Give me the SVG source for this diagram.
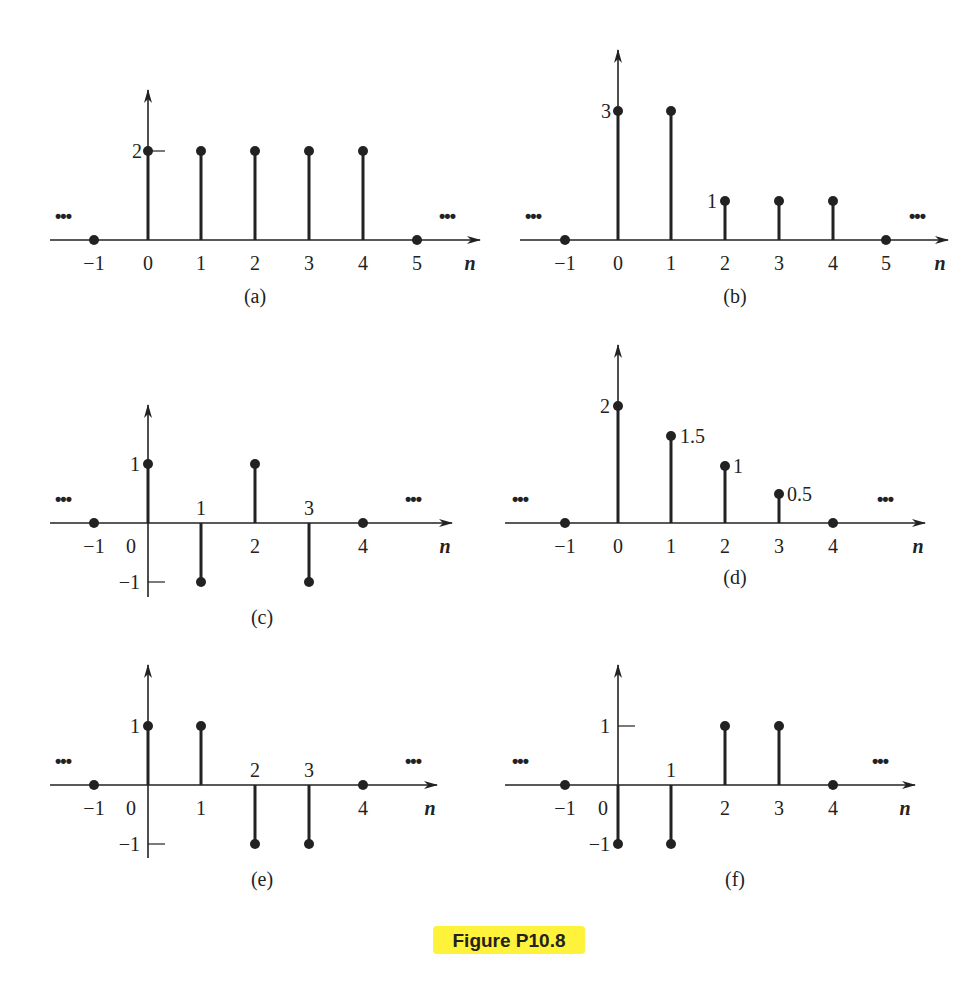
<svg xmlns="http://www.w3.org/2000/svg" width="980" height="990" viewBox="0 0 980 990">
<defs>
<marker id="ar" markerWidth="14" markerHeight="8" refX="13" refY="4" orient="auto" markerUnits="userSpaceOnUse"><path d="M0,0 L14,4 L0,8 L4,4 Z" fill="#222"/></marker>
<style>
.ax{stroke:#222;stroke-width:1.6;fill:none}
.st{stroke:#222;stroke-width:3}
.tk{stroke:#222;stroke-width:1.2}
.d{fill:#222}
text{font-family:"Liberation Serif",serif;font-size:20px;fill:#222}
.c{text-anchor:middle}
.r{text-anchor:end}
.n{font-style:italic;font-weight:bold}
.el{font-family:"Liberation Sans",sans-serif;font-size:18px;font-weight:bold;letter-spacing:-1px}
</style>
</defs>
<rect width="980" height="990" fill="#fff"/>
<g id="connectors">
<line class="ax" x1="50" y1="240" x2="480" y2="240" marker-end="url(#ar)"/>
<line class="ax" x1="148" y1="240" x2="148" y2="90" marker-end="url(#ar)"/>
<line class="ax" x1="520" y1="240" x2="948" y2="240" marker-end="url(#ar)"/>
<line class="ax" x1="618" y1="240" x2="618" y2="50" marker-end="url(#ar)"/>
<line class="ax" x1="50" y1="523" x2="452" y2="523" marker-end="url(#ar)"/>
<line class="ax" x1="148" y1="597" x2="148" y2="405" marker-end="url(#ar)"/>
<line class="ax" x1="505" y1="523" x2="925" y2="523" marker-end="url(#ar)"/>
<line class="ax" x1="618" y1="523" x2="618" y2="345" marker-end="url(#ar)"/>
<line class="ax" x1="50" y1="785" x2="437" y2="785" marker-end="url(#ar)"/>
<line class="ax" x1="148" y1="858" x2="148" y2="665" marker-end="url(#ar)"/>
<line class="ax" x1="505" y1="785" x2="915" y2="785" marker-end="url(#ar)"/>
<line class="ax" x1="618" y1="785" x2="618" y2="665" marker-end="url(#ar)"/>
</g>
<g id="plot-a">
<line class="tk" x1="148" y1="151" x2="165" y2="151"/>
<g class="st"><line x1="148" y1="240" x2="148" y2="151"/><line x1="201" y1="240" x2="201" y2="151"/><line x1="255" y1="240" x2="255" y2="151"/><line x1="309" y1="240" x2="309" y2="151"/><line x1="363" y1="240" x2="363" y2="151"/></g>
<g class="d"><circle cx="94" cy="240" r="5"/><circle cx="148" cy="151" r="5"/><circle cx="201" cy="151" r="5"/><circle cx="255" cy="151" r="5"/><circle cx="309" cy="151" r="5"/><circle cx="363" cy="151" r="5"/><circle cx="417" cy="240" r="5"/></g>
<text x="142" y="158" class="r">2</text>
<text x="63" y="222" class="c el">•••</text><text x="447" y="222" class="c el">•••</text>
<text x="94" y="270" class="c">−1</text><text x="148" y="270" class="c">0</text><text x="201" y="270" class="c">1</text><text x="255" y="270" class="c">2</text><text x="309" y="270" class="c">3</text><text x="363" y="270" class="c">4</text><text x="417" y="270" class="c">5</text>
<text x="470" y="270" class="c n">n</text>
<text x="255" y="303" class="c">(a)</text>
</g>
<g id="plot-b">
<g class="st"><line x1="618" y1="240" x2="618" y2="111"/><line x1="671" y1="240" x2="671" y2="111"/><line x1="725" y1="240" x2="725" y2="201"/><line x1="779" y1="240" x2="779" y2="201"/><line x1="833" y1="240" x2="833" y2="201"/></g>
<g class="d"><circle cx="565" cy="240" r="5"/><circle cx="618" cy="111" r="5"/><circle cx="671" cy="111" r="5"/><circle cx="725" cy="201" r="5"/><circle cx="779" cy="201" r="5"/><circle cx="833" cy="201" r="5"/><circle cx="886" cy="240" r="5"/></g>
<text x="611" y="118" class="r">3</text><text x="717" y="208" class="r">1</text>
<text x="533" y="222" class="c el">•••</text><text x="917" y="222" class="c el">•••</text>
<text x="565" y="270" class="c">−1</text><text x="618" y="270" class="c">0</text><text x="671" y="270" class="c">1</text><text x="725" y="270" class="c">2</text><text x="779" y="270" class="c">3</text><text x="833" y="270" class="c">4</text><text x="886" y="270" class="c">5</text>
<text x="940" y="270" class="c n">n</text>
<text x="735" y="303" class="c">(b)</text>
</g>
<g id="plot-c">
<line class="tk" x1="148" y1="582" x2="165" y2="582"/>
<g class="st"><line x1="148" y1="523" x2="148" y2="464"/><line x1="201" y1="523" x2="201" y2="582"/><line x1="255" y1="523" x2="255" y2="464"/><line x1="309" y1="523" x2="309" y2="582"/></g>
<g class="d"><circle cx="94" cy="523" r="5"/><circle cx="148" cy="464" r="5"/><circle cx="201" cy="582" r="5"/><circle cx="255" cy="464" r="5"/><circle cx="309" cy="582" r="5"/><circle cx="363" cy="523" r="5"/></g>
<text x="140" y="471" class="r">1</text><text x="140" y="589" class="r">−1</text>
<text x="63" y="505" class="c el">•••</text><text x="413" y="505" class="c el">•••</text>
<text x="94" y="553" class="c">−1</text><text x="131" y="553" class="c">0</text><text x="255" y="553" class="c">2</text><text x="363" y="553" class="c">4</text>
<text x="201" y="515" class="c">1</text><text x="309" y="515" class="c">3</text>
<text x="445" y="553" class="c n">n</text>
<text x="262" y="624" class="c">(c)</text>
</g>
<g id="plot-d">
<g class="st"><line x1="618" y1="523" x2="618" y2="406"/><line x1="671" y1="523" x2="671" y2="436"/><line x1="725" y1="523" x2="725" y2="466"/><line x1="779" y1="523" x2="779" y2="494"/></g>
<g class="d"><circle cx="565" cy="523" r="5"/><circle cx="618" cy="406" r="5"/><circle cx="671" cy="436" r="5"/><circle cx="725" cy="466" r="5"/><circle cx="779" cy="494" r="5"/><circle cx="833" cy="523" r="5"/></g>
<text x="610" y="413" class="r">2</text><text x="680" y="443">1.5</text><text x="733" y="473">1</text><text x="787" y="501">0.5</text>
<text x="520" y="505" class="c el">•••</text><text x="885" y="505" class="c el">•••</text>
<text x="565" y="553" class="c">−1</text><text x="618" y="553" class="c">0</text><text x="671" y="553" class="c">1</text><text x="725" y="553" class="c">2</text><text x="779" y="553" class="c">3</text><text x="833" y="553" class="c">4</text>
<text x="918" y="553" class="c n">n</text>
<text x="735" y="584" class="c">(d)</text>
</g>
<g id="plot-e">
<line class="tk" x1="148" y1="844" x2="165" y2="844"/>
<g class="st"><line x1="148" y1="785" x2="148" y2="726"/><line x1="201" y1="785" x2="201" y2="726"/><line x1="255" y1="785" x2="255" y2="844"/><line x1="309" y1="785" x2="309" y2="844"/></g>
<g class="d"><circle cx="94" cy="785" r="5"/><circle cx="148" cy="726" r="5"/><circle cx="201" cy="726" r="5"/><circle cx="255" cy="844" r="5"/><circle cx="309" cy="844" r="5"/><circle cx="363" cy="785" r="5"/></g>
<text x="140" y="733" class="r">1</text><text x="140" y="851" class="r">−1</text>
<text x="63" y="767" class="c el">•••</text><text x="413" y="767" class="c el">•••</text>
<text x="94" y="815" class="c">−1</text><text x="131" y="815" class="c">0</text><text x="201" y="815" class="c">1</text><text x="363" y="815" class="c">4</text>
<text x="255" y="777" class="c">2</text><text x="309" y="777" class="c">3</text>
<text x="430" y="815" class="c n">n</text>
<text x="262" y="886" class="c">(e)</text>
</g>
<g id="plot-f">
<line class="tk" x1="618" y1="726" x2="635" y2="726"/>
<g class="st"><line x1="618" y1="785" x2="618" y2="844"/><line x1="671" y1="785" x2="671" y2="844"/><line x1="725" y1="785" x2="725" y2="726"/><line x1="779" y1="785" x2="779" y2="726"/></g>
<g class="d"><circle cx="565" cy="785" r="5"/><circle cx="618" cy="844" r="5"/><circle cx="671" cy="844" r="5"/><circle cx="725" cy="726" r="5"/><circle cx="779" cy="726" r="5"/><circle cx="833" cy="785" r="5"/></g>
<text x="610" y="733" class="r">1</text><text x="610" y="851" class="r">−1</text>
<text x="520" y="767" class="c el">•••</text><text x="880" y="767" class="c el">•••</text>
<text x="565" y="815" class="c">−1</text><text x="603" y="815" class="c">0</text><text x="725" y="815" class="c">2</text><text x="779" y="815" class="c">3</text><text x="833" y="815" class="c">4</text>
<text x="671" y="777" class="c">1</text>
<text x="905" y="815" class="c n">n</text>
<text x="735" y="886" class="c">(f)</text>
</g>
<g id="caption">
<rect x="433" y="926" width="152" height="28" rx="4" fill="#fff23a"/>
<text x="509" y="947" class="c" style="font-family:'Liberation Sans',sans-serif;font-weight:bold;font-size:19px">Figure P10.8</text>
</g>
</svg>
